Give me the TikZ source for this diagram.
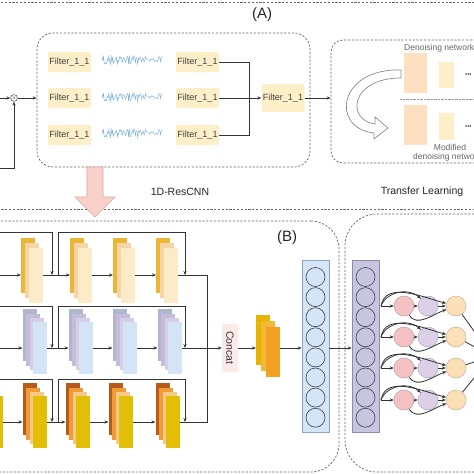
\documentclass[tikz,border=0pt]{standalone}
\usepackage{fontspec}
\setmainfont{Liberation Sans}
\usetikzlibrary{arrows.meta,calc}

\definecolor{filtcol}{HTML}{FDEFC8}
\definecolor{wavec}{HTML}{7FB3DA}
\definecolor{pinkf}{HTML}{F9D0CA}
\definecolor{pinkd}{HTML}{E3A59C}
\definecolor{tlbig}{HTML}{FDE0C0}
\definecolor{tlsmall}{HTML}{FDF0C8}
% feature map colours
\definecolor{aa}{HTML}{E9B735}
\definecolor{ab}{HTML}{F5D5A8}
\definecolor{ac}{HTML}{FCEBC9}
\definecolor{ba}{HTML}{AEB6D0}
\definecolor{bb}{HTML}{C5BCD8}
\definecolor{bc}{HTML}{D6CDE8}
\definecolor{bd}{HTML}{D4E4F7}
\definecolor{ca}{HTML}{B85A1A}
\definecolor{cb}{HTML}{EF9B38}
\definecolor{cc}{HTML}{F5C98A}
\definecolor{cd}{HTML}{E2BE06}
\definecolor{da}{HTML}{E7B400}
\definecolor{db}{HTML}{F3B73A}
\definecolor{dc}{HTML}{F2A122}
\definecolor{catc}{HTML}{FBEAE8}
\definecolor{fcblue}{HTML}{D5E5F8}
\definecolor{fcblued}{HTML}{90A4C8}
\definecolor{fcpurp}{HTML}{C8C5E1}
\definecolor{fcpurpd}{HTML}{8E8AB0}
\definecolor{cellp}{HTML}{F4C2C2}
\definecolor{cellq}{HTML}{DCCFE8}
\definecolor{cello}{HTML}{FDE0B8}

% name, centre of front map, height, step, front colour, back maps k/colour (far first)
\newcommand\fstack[6]{%
  \foreach \k/\c in {#6}
    \node[fmap, minimum height=#3, fill=\c] (#1-\k)
      at ([shift={(-\k*#4,-1.2*\k*#4)}]#2) {};
  \node[fmap, minimum height=#3, fill=#5] (#1) at (#2) {};
}

\begin{document}
\begin{tikzpicture}[x=1pt, y=-1pt,
    wire/.style={draw=black!80, line width=0.8pt},
    arr/.style={-{Stealth[length=4pt,width=3.2pt]}},
    grp/.style={draw=black!60, dash pattern=on 2.2pt off 1.6pt, line width=0.7pt, rounded corners=#1},
    grp/.default=12pt,
    filt/.style={fill=filtcol, rounded corners=1.5pt, minimum width=43pt, minimum height=20pt,
      inner sep=0pt, text=black!75, font=\fontsize{9}{10}\selectfont},
    fmap/.style={minimum width=14pt, inner sep=0pt, outer sep=0pt},
    neuron/.style={circle, draw=black!75, line width=0.6pt, minimum size=19pt, inner sep=0pt},
    fcol/.style={rectangle, draw=#1, line width=0.6pt, minimum width=27pt, minimum height=172pt},
    cell/.style={circle, fill=#1, draw=#1!75!black, line width=0.4pt, minimum size=20pt, inner sep=0pt},
    lbl/.style={font=\fontsize{10.5}{12}\selectfont, text=black!85},
    note/.style={font=\fontsize{8.5}{10}\selectfont, text=black!60, inner sep=0pt}
  ]
  \useasboundingbox (0,0) rectangle (474,474);
  \clip (0,0) rectangle (474,474);
  \fill[white] (0,0) rectangle (474,474);

  % group frames
  \node[grp=0pt, minimum width=494pt, minimum height=207pt] (abox) at (237,105.5) {};
  \node[grp=16pt, minimum width=273pt, minimum height=134pt] (rcnn) at (173.5,100) {};
  \node[grp=12pt, minimum width=168pt, minimum height=123pt] (tl) at (415,101.5) {};
  \node[grp=28pt, minimum width=369pt, minimum height=251pt] (cnnbox) at (154.5,346.5) {};
  \node[grp=32pt, minimum width=165pt, minimum height=258pt] (nnbox) at (427.5,343) {};

  \node[font=\fontsize{15}{17}\selectfont, text=black!85] (labA) at (262,15) {(A)};
  \node[font=\fontsize{15}{17}\selectfont, text=black!85] (labB) at (287,238) {(B)};
  \node[lbl] (lab1d) at (180,192) {1D-ResCNN};
  \node[lbl] (labtl) at (422,192) {Transfer Learning};

  % (A) input gate
  \node[circle, draw=black!75, line width=0.5pt, fill=white, minimum size=6pt, inner sep=0pt,
    font=\fontsize{5}{5}\selectfont] (mul) at (14,98) {$\times$};
  \coordinate (xin) at (0,98);
  \coordinate (gate) at (0,168);
  \draw[wire,arr] (xin) -- (mul);
  \draw[wire,arr] (gate) -| (mul);
  \draw[wire,arr] (mul) -- (mul -| rcnn.west);

  % filters and signals
  \foreach \i/\yy in {1/62, 2/98, 3/135} {
    \node[filt] (f\i) at (69.5,\yy) {Filter\_1\_1};
    \node[filt] (g\i) at (197.5,\yy) {Filter\_1\_1};
  }
  \foreach \yy in {60,97,133} {
    \pgfmathsetseed{42}
    \draw[wavec, line width=0.45pt] plot[domain=0:60, samples=80, variable=\t]
      ({102+\t}, {\yy + (\t<44 ? 4.5 : (\t<54 ? 1.5 : 3.5))*rand});
  }
  \node[filt, minimum height=28pt] (fm) at (283,98) {Filter\_1\_1};
  \coordinate (mg) at (249,98);
  \draw[wire] (g1.east) -| (mg);
  \draw[wire] (g3.east) -| (mg);
  \draw[wire] (g2.east) -- (mg);
  \draw[wire,arr] (mg) -- (fm.west);
  \draw[wire,arr] (fm.east) -- (fm.east -| tl.west);

  % transfer learning
  \node[note, anchor=west] (labdn) at (404,48) {Denoising network};
  \node[fill=tlbig, minimum width=23pt, minimum height=40pt, inner sep=0pt] (tb1) at (415.5,73) {};
  \node[fill=tlsmall, minimum width=15pt, minimum height=26pt, inner sep=0pt] (ts1) at (446.5,75) {};
  \node[fill=tlbig, minimum width=23pt, minimum height=40pt, inner sep=0pt] (tb2) at (415.5,125) {};
  \node[fill=tlsmall, minimum width=15pt, minimum height=27pt, inner sep=0pt] (ts2) at (446.5,126.5) {};
  \node[anchor=west, inner sep=0pt, text=black!80, font=\fontsize{6}{6}\selectfont] (dt1) at (465,75) {\textbullet\textbullet\textbullet};
  \node[anchor=west, inner sep=0pt, text=black!80, font=\fontsize{6}{6}\selectfont] (dt2) at (465,127) {\textbullet\textbullet\textbullet};
  \coordinate (sepL) at (400,99);
  \coordinate (sepR) at (474,99);
  \draw[densely dotted, black!40] (sepL) -- (sepR);
  \node[note] (labmod) at (450,147) {Modified};
  \node[note, anchor=west] (labmd) at (413,157) {denoising network};
  \draw[draw=black!45, fill=white, line width=0.7pt]
    (401,70) .. controls (338,68) and (330,128) .. (374,133) -- (374,139) -- (388,128)
    -- (375,117) -- (375,124) .. controls (346,120) and (350,78) .. (401,78) -- cycle;

  % hand-over arrow
  \coordinate (pk) at (95,167);
  \draw[fill=pinkf, draw=pinkd, line width=0.6pt]
    (pk) ++(-8,0) -- ++(0,30) -- ++(-12,0) -- ++(20,20) -- ++(20,-20) -- ++(-12,0) -- ++(0,-30) -- cycle;

  % (B) three residual branches
  \fstack{a1}{36,275}{55}{4}{ac}{2/aa,1/ab}
  \fstack{a2}{85,275}{55}{4}{ac}{2/aa,1/ab}
  \fstack{a3}{128,275}{55}{4}{ac}{2/aa,1/ab}
  \fstack{a4}{171,275}{55}{4}{ac}{2/aa,1/ab}
  \fstack{b1}{40,348}{52}{3.5}{bd}{3/ba,2/bb,1/bc}
  \fstack{b2}{86,348}{52}{3.5}{bd}{3/ba,2/bb,1/bc}
  \fstack{b3}{130,348}{52}{3.5}{bd}{3/ba,2/bb,1/bc}
  \fstack{b4}{175,348}{52}{3.5}{bd}{3/ba,2/bb,1/bc}
  \fstack{c0}{-4,422}{52}{3.5}{cd}{3/ca,2/cb,1/cc}
  \fstack{c1}{40,422}{52}{3.5}{cd}{3/ca,2/cb,1/cc}
  \fstack{c2}{83,422}{52}{3.5}{cd}{3/ca,2/cb,1/cc}
  \fstack{c3}{126,422}{52}{3.5}{cd}{3/ca,2/cb,1/cc}
  \fstack{c4}{173,422}{52}{3.5}{cd}{3/ca,2/cb,1/cc}

  \coordinate (a-in) at (0,275);
  \coordinate (b-in) at (0,348);
  \coordinate (c-in) at (c0.east);
  \foreach \r/\y/\t/\b in {a/275/232/2, b/348/306/3, c/422/379/3} {
    \coordinate (\r-top) at (0,\t);
    \coordinate (\r-j1) at (52,\y);
    \coordinate (\r-j2) at (58,\y);
    \coordinate (\r-j3) at (185,\y);
    \draw[wire,arr] (\r-in) -- (\r-in -| \r1-\b.west);
    \foreach \s [count=\n from 2] in {1,2,3}
      \draw[wire,arr] (\r\s.east) -- (\r\s.east -| \r\n-\b.west);
    \draw[wire,arr] (\r-top) -| (\r-j1);
    \draw[wire,arr] (\r-j2) |- (\r-top -| \r-j3) -- (\r-j3);
  }
  \node[fill=catc, minimum width=16pt, minimum height=48pt, inner sep=0pt, rounded corners=2pt,
    text=black!80, font=\fontsize{10.5}{11}\selectfont] (cat) at (230,348) {\rotatebox{-90}{Concat}};
  \coordinate (bus) at (207,348);
  \draw[wire] (a4.east) -| (bus);
  \draw[wire] (c4.east) -| (bus);
  \draw[wire,arr] (b4.east) -- (cat.west);

  % fusion and dense layers
  \fstack{d}{273,352}{50}{5}{dc}{2/da,1/db}
  \node[fcol=fcblued, fill=fcblue] (fc1) at (315.5,346) {};
  \node[fcol=fcpurpd, fill=fcpurp] (fc2) at (365.5,346) {};
  \foreach \k in {0,...,7} {
    \node[neuron] (u\k) at (315.5,277+\k*20.1) {};
    \node[neuron] (v\k) at (365.5,277+\k*20.1) {};
  }
  \draw[wire,arr] (cat.east) -- (cat.east -| d-2.west);
  \draw[wire,arr] (d.east |- cat.east) -- (fc1.west |- cat.east);
  \draw[wire,arr] (fc1.east |- cat.east) -- (fc2.west |- cat.east);

  % recurrent cells
  \coordinate (yout) at (492,356);
  \foreach \k/\yy in {1/306, 2/337, 3/368, 4/400} {
    \coordinate (h\k) at (381,\yy);
    \node[cell=cellp] (p\k) at (404,\yy) {};
    \node[cell=cellq] (q\k) at (428,\yy) {};
    \node[cell=cello] (o\k) at (456,\yy) {};
    \draw[wire,arr] (h\k) -- (p\k);
    \draw[wire,arr] (p\k) -- (q\k);
    \draw[wire,arr] (q\k) -- (o\k);
    \draw[wire,arr] (h\k) to[out=70,in=135] (q\k);
    \draw[wire,arr] (h\k) to[out=80,in=165] (o\k);
    \draw[wire,arr] (p\k) to[out=-60,in=-160] (o\k);
    \draw[wire] (o\k) -- (yout);
  }
\end{tikzpicture}
\end{document}
